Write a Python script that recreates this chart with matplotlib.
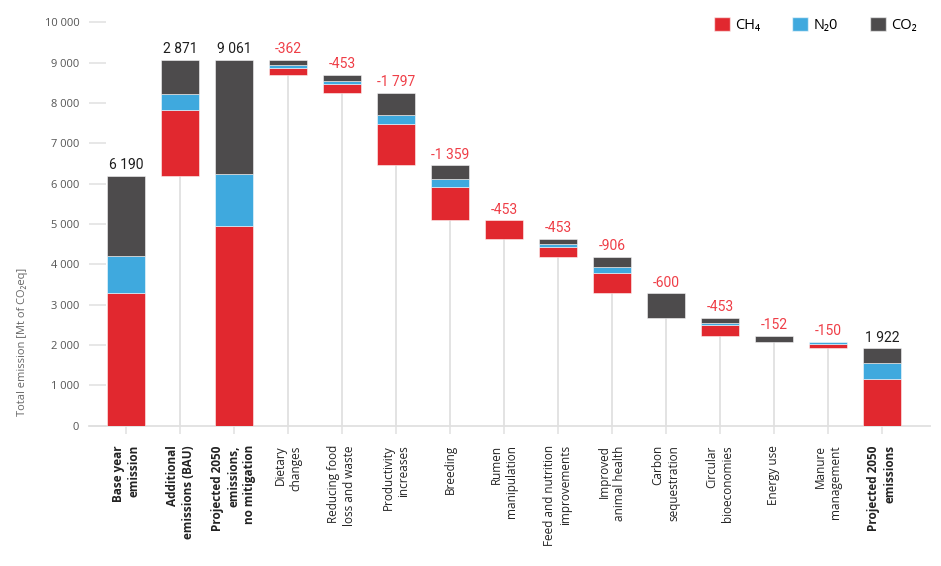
import matplotlib
matplotlib.use("Agg")
import matplotlib.pyplot as plt
from matplotlib.patches import Patch

# data (Mt CO2eq)
categories = [
    "Base year\nemission",
    "Additional\nemissions (BAU)",
    "Projected 2050\nemissions,\nno mitigation",
    "Dietary\nchanges",
    "Reducing food\nloss and waste",
    "Productivity\nincreases",
    "Breeding",
    "Rumen\nmanipulation",
    "Feed and nutrition\nimprovements",
    "Improved\nanimal health",
    "Carbon\nsequestration",
    "Circular\nbioeconomies",
    "Energy use",
    "Manure\nmanagement",
    "Projected 2050\nemissions",
]
kinds = ["total", "add", "total"] + ["cut"] * 11 + ["total"]
ch4 = [3300, 1640, 4940, 171, 230, 1027, 824, 453, 248, 500, 0, 258, 0, 100, 1150]
n2o = [910, 390, 1300, 63, 66, 215, 205, 0, 80, 148, 0, 63, 0, 50, 392]
co2 = [1980, 841, 2821, 128, 157, 555, 330, 0, 125, 258, 600, 132, 152, 0, 380]
value_labels = ["6 190", "2 871", "9 061", "-362", "-453", "-1 797", "-1 359",
                "-453", "-453", "-906", "-600", "-453", "-152", "-150", "1 922"]
bold_labels = [0, 1, 2, 14]

RED = "#e1282f"
BLUE = "#3fa9de"
DARK = "#4d4b4c"
GRID = "#e0e0e0"
NEG = "#ef3e47"

plt.rcParams["font.family"] = ["Open Sans", "DejaVu Sans"]

fig = plt.figure(figsize=(9.41, 5.66), dpi=100)
ax = fig.add_axes([0.0946, 0.2479, 0.8937, 0.7343])

edge = (1, 1, 1, 0.6)
width = 0.69
level = 0
for i, kind in enumerate(kinds):
    total = ch4[i] + n2o[i] + co2[i]
    if kind == "total":
        base = 0
        level = total
    elif kind == "add":
        base = level
        level = level + total
    else:
        base = level - total
        level = base
    if base > 0:
        ax.vlines(i, 0, base, color=GRID, lw=1.3, zorder=1)
    b = base
    for vals, col in ((ch4, RED), (n2o, BLUE), (co2, DARK)):
        if vals[i] > 0:
            ax.bar(i, vals[i], bottom=b, width=width, color=col,
                   edgecolor=edge, linewidth=0.6, zorder=3)
        b += vals[i]
    ax.text(i, base + total + 90, value_labels[i], ha="center", va="bottom",
            fontsize=10, family=["Roboto", "DejaVu Sans"],
            color=NEG if kind == "cut" else "#1e1e1e")

ax.set_xlim(-0.685, 14.89)
ax.set_ylim(0, 10300)

ax.set_yticks(range(0, 10001, 1000))
ax.set_yticklabels([f"{v:,}".replace(",", " ") for v in range(0, 10001, 1000)])
ax.tick_params(axis="y", direction="in", length=12.5, width=1.1, color=GRID,
               labelsize=8, labelcolor="#555555", pad=7)

ax.set_xticks(range(len(categories)))
ax.set_xticklabels(categories, rotation=90, ha="center", va="top",
                   multialignment="right", linespacing=1.3)
ax.tick_params(axis="x", direction="out", length=6, width=1.1, color=GRID,
               labelsize=8.5, labelcolor="#222222", pad=8)
for i, lab in enumerate(ax.get_xticklabels()):
    if i in bold_labels:
        lab.set_fontweight("bold")

for side in ("top", "right", "left"):
    ax.spines[side].set_visible(False)
ax.spines["bottom"].set_color(GRID)
ax.spines["bottom"].set_linewidth(1.3)

fig.text(0.024, 1 - 342 / 566, "Total emission [Mt of CO₂eq]", rotation=90,
         ha="center", va="center", fontsize=8, color="#666666")

handles = [Patch(facecolor=RED, edgecolor=edge), Patch(facecolor=BLUE, edgecolor=edge),
           Patch(facecolor=DARK, edgecolor=edge)]
fig.legend(handles, ["CH₄", "N₂0", "CO₂"], loc="center left",
           bbox_to_anchor=(714 / 941, 1 - 25 / 566), ncol=3, frameon=False,
           fontsize=10.5, handlelength=1.1, handleheight=1.1,
           handletextpad=0.35, columnspacing=2.2, borderpad=0, borderaxespad=0)

fig.savefig("out.png", dpi=100)
